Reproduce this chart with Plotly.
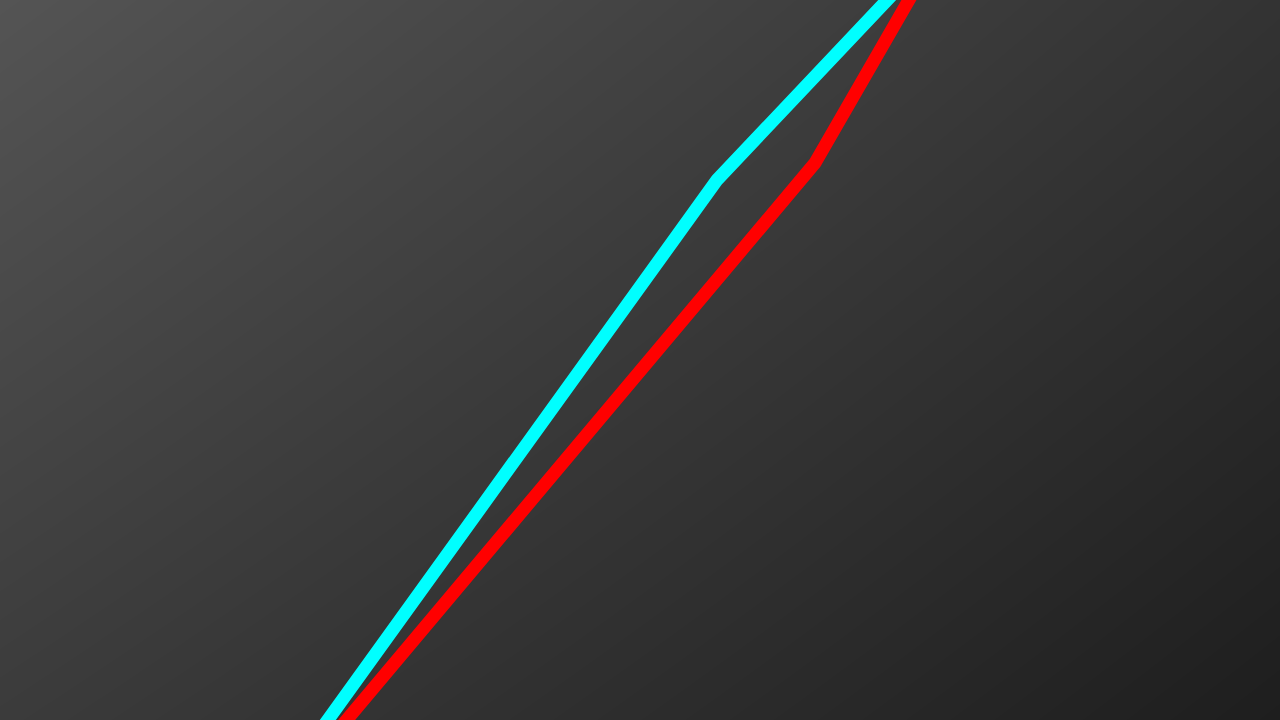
import plotly.graph_objects as go

# two polylines, in a 1280 x 720 frame (y up); ends run past the frame and get clipped
cyan_x = [299, 717, 925]
cyan_y = [-40, 540, 760]
red_x = [313, 815, 932]
red_y = [-40, 557, 760]

# background shade at the corners (grey level 0-255): [bottom row, top row]
bg_shade = [[59, 30],
            [84, 51]]

fig = go.Figure()

# backdrop gradient on its own axes
fig.add_trace(go.Heatmap(
    z=bg_shade, x=[0, 1], y=[0, 1], zsmooth='best',
    zmin=30, zmax=84,
    colorscale=[[0, 'rgb(30,30,30)'], [1, 'rgb(84,84,84)']],
    showscale=False, hoverinfo='skip',
))

fig.add_trace(go.Scatter(x=cyan_x, y=cyan_y, mode='lines', xaxis='x2', yaxis='y2',
                         line=dict(color='#00ffff', width=13)))
fig.add_trace(go.Scatter(x=red_x, y=red_y, mode='lines', xaxis='x2', yaxis='y2',
                         line=dict(color='#ff0000', width=13)))

hidden = dict(visible=False, showgrid=False, zeroline=False, fixedrange=True)
fig.update_layout(
    width=1280, height=720,
    margin=dict(l=0, r=0, t=0, b=0),
    showlegend=False,
    paper_bgcolor='#333333', plot_bgcolor='#333333',
    xaxis=dict(range=[0, 1], **hidden),
    yaxis=dict(range=[0, 1], **hidden),
    xaxis2=dict(range=[0, 1280], overlaying='x', **hidden),
    yaxis2=dict(range=[0, 720], overlaying='y', **hidden),
)

# drop the page's default body margin so the figure fills the window
fig.write_html("out.html", config={'displayModeBar': False},
               post_script="document.body.style.margin='0';document.body.style.overflow='hidden';")
